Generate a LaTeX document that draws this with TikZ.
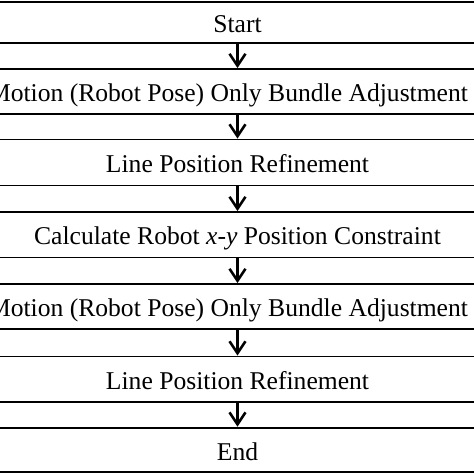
\documentclass[tikz,border=0pt]{standalone}
\usepackage{fontspec}
\setmainfont{Liberation Serif}
\usetikzlibrary{arrows.meta}
\begin{document}
\begin{tikzpicture}[x=1pt,y=-1pt,
  box/.style={draw=black, line width=1.8pt, fill=white, inner sep=0pt,
    minimum width=540pt, text height=20pt, text depth=0pt,
    font=\fontsize{25.6pt}{30pt}\selectfont},
  arr/.style={line width=2.6pt, -{Straight Barb[length=12pt,width=16pt,line width=2.6pt]}}]
\useasboundingbox (0,0) rectangle (474,474);
\clip (0,0) rectangle (474,474);
\node[box, minimum height=41pt, line width=2.6pt] (s)  at (237.5,22.5)  {Start};
\node[box, minimum height=45pt]   (b1) at (237.5,91.5)   {\kern-19pt Motion (Robot Pose) Only Bundle Adjustment};
\node[box, minimum height=46pt]   (l1) at (237.5,162.5)  {Line Position Refinement};
\node[box, minimum height=45.5pt] (c)  at (237.5,234.75) {Calculate Robot \textit{x-y} Position Constraint};
\node[box, minimum height=45pt]   (b2) at (237.5,306.5)  {\kern-19pt Motion (Robot Pose) Only Bundle Adjustment};
\node[box, minimum height=45.5pt] (l2) at (237.5,379.25) {Line Position Refinement};
\node[box, minimum height=44pt, line width=2.6pt] (e)  at (237.5,450) {End};
\draw[arr] (s.south)  -- (b1.north);
\draw[arr] (b1.south) -- (l1.north);
\draw[arr] (l1.south) -- (c.north);
\draw[arr] (c.south)  -- (b2.north);
\draw[arr] (b2.south) -- (l2.north);
\draw[arr] (l2.south) -- (e.north);
\end{tikzpicture}
\end{document}
